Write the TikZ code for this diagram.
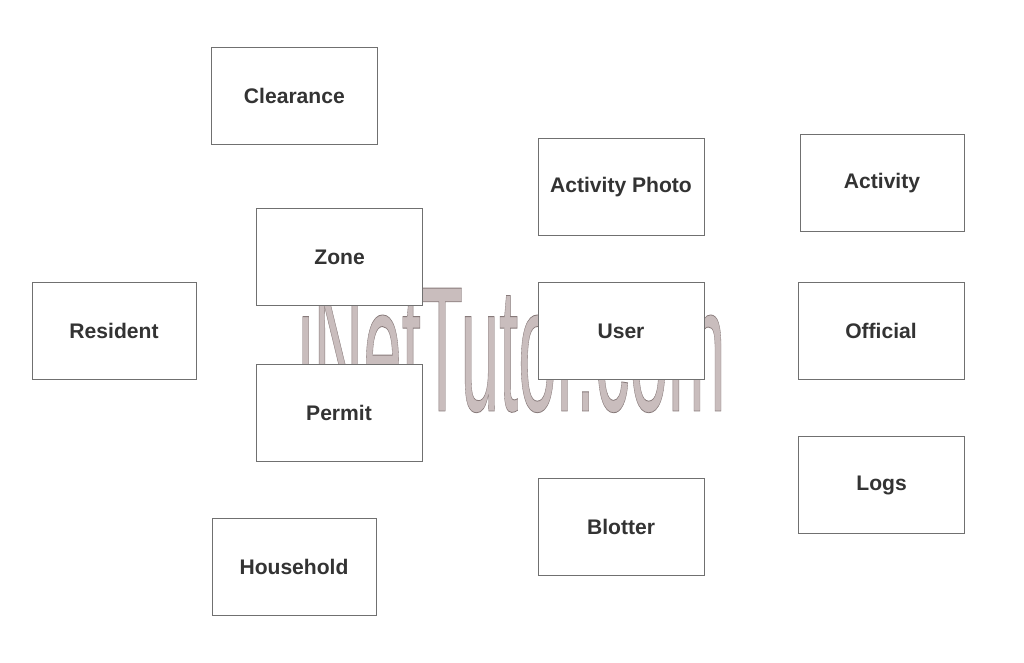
\documentclass[tikz,border=0pt]{standalone}
\usepackage{fontspec}
\setmainfont{Liberation Sans}
\usepackage{tikz}
\definecolor{boxline}{HTML}{707070}
\definecolor{boxtext}{HTML}{333333}
\definecolor{wmfill}{HTML}{C9BDBD}
\newcommand{\outlined}[1]{\special{pdf:literal direct 2 Tr 0.6 w 0.53 0.48 0.48 RG}#1\special{pdf:literal direct 0 Tr}}
\tikzset{
    entity/.style={draw=boxline, fill=white, line width=0.7pt, minimum width=4.15cm,
        minimum height=2.425cm, text=boxtext, font=\fontsize{15}{18}\selectfont\bfseries},
    watermark/.style={anchor=base west, inner sep=0pt, xscale=0.387, text=wmfill,
        font=\fontsize{127}{127}\selectfont}
}

\begin{document}
\begin{tikzpicture}
        \useasboundingbox (0,0) rectangle (25.6,16.575);

        % Watermark behind the tables
        \node[watermark] (wm) at (7.45,6.3) {\outlined{iNetTutor.com}};

        % Left column
        \node[entity] (clearance) at (7.36,14.175) {Clearance};
        \node[entity] (zone) at (8.49,10.14) {Zone};
        \node[entity, minimum width=4.1cm] (resident) at (2.85,8.3) {Resident};
        \node[entity] (permit) at (8.475,6.24) {Permit};
        \node[entity, minimum width=4.1cm] (household) at (7.35,2.4) {Household};

        % Middle column
        \node[entity] (actphoto) at (15.525,11.91) {Activity Photo};
        \node[entity] (user) at (15.525,8.29) {User};
        \node[entity] (blotter) at (15.525,3.4) {Blotter};

        % Right column
        \node[entity, minimum width=4.1cm] (activity) at (22.05,12.01) {Activity};
        \node[entity] (official) at (22.025,8.29) {Official};
        \node[entity] (logs) at (22.04,4.44) {Logs};
    \end{tikzpicture}
\end{document}
